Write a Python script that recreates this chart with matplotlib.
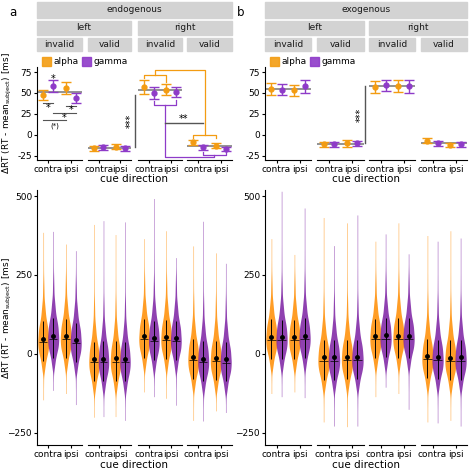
import numpy as np
import matplotlib
matplotlib.use("Agg")
import matplotlib.pyplot as plt
from matplotlib.patches import Rectangle

plt.rcParams['font.family'] = ['DejaVu Sans']
W = 474
ORANGE = "#F39C12"
ORANGE_D = "#FF8C00"
PURPLE = "#8E3BC8"
PURPLE_D = "#7B1FA2"

facets = ["left-invalid", "left-valid", "right-invalid", "right-valid"]
cue = ["contra", "ipsi"]
bands = ["alpha", "gamma"]

# mean RT differences, order per facet: contra-alpha, contra-gamma, ipsi-alpha, ipsi-gamma
endo_mean = [[48, 58, 56, 44], [-16, -15, -14, -16], [57, 50, 54, 51], [-9, -15, -13, -17]]
endo_err = [[6, 7, 7, 6], [3, 3, 3, 3], [8, 7, 7, 6], [3, 3, 3, 2]]
exo_mean = [[55, 54, 53, 58], [-11, -11, -10, -10], [57, 59, 58, 58], [-7, -10, -12, -11]]
exo_err = [[7, 7, 7, 8], [3, 3, 4, 3], [7, 7, 7, 8], [3, 3, 2, 3]]

endo_max = [[385, 388, 348, 327], [410, 422, 378, 418], [365, 492, 390, 305], [342, 420, 320, 287]]
endo_min = [[-145, -115, -125, -160], [-200, -198, -198, -210], [-120, -135, -140, -162], [-210, -212, -180, -185]]
exo_max = [[365, 515, 315, 462], [432, 343, 415, 440], [357, 380, 415, 317], [375, 357, 390, 367]]
exo_min = [[-125, -135, -120, -138], [-215, -228, -230, -228], [-135, -105, -125, -175], [-215, -218, -210, -228]]

cols = [
    dict(label="a", title="endogenous", px=[(37, 82), (88, 131), (138, 182), (187, 232)],
         mean=endo_mean, err=endo_err, vmax=endo_max, vmin=endo_min),
    dict(label="b", title="exogenous", px=[(265, 311), (317, 364), (369, 415), (421, 467)],
         mean=exo_mean, err=exo_err, vmax=exo_max, vmin=exo_min),
]

fig = plt.figure(figsize=(4.74, 4.74), dpi=100)
FS = 6.5

def fbox(x0, x1, ytop, ybot):
    return [x0 / W, 1 - ybot / W, (x1 - x0) / W, (ybot - ytop) / W]

STRIP = "#D3D3D3"
def strip(x0, x1, ytop, ybot, text):
    fig.patches.append(Rectangle((x0 / W, 1 - ybot / W), (x1 - x0) / W, (ybot - ytop) / W,
                                 transform=fig.transFigure, color=STRIP, zorder=0))
    fig.text((x0 + x1) / 2 / W, 1 - (ytop + ybot) / 2 / W, text, ha="center", va="center",
             fontsize=FS, color="#1A1A1A")

offs = [-0.22, 0.22]
xs = [1 + offs[0], 1 + offs[1], 2 + offs[0], 2 + offs[1]]
colors = [ORANGE, PURPLE, ORANGE, PURPLE]
vcolors = [ORANGE_D, PURPLE_D, ORANGE_D, PURPLE_D]

def violin(ax, x, med, lo, hi, col):
    ky = np.array([lo, med - 110, med - 60, med - 25, med, med + 40, med + 80, med + 140, med + 220, hi])
    kw = np.array([0.02, 0.06, 0.45, 0.9, 1.0, 0.85, 0.45, 0.15, 0.05, 0.02])
    order = np.argsort(ky)
    ky, kw = ky[order], kw[order]
    yy = np.linspace(lo, hi, 300)
    ww = np.interp(yy, ky, kw)
    ww = np.convolve(np.pad(ww, 6, mode="edge"), np.ones(13) / 13, mode="valid")
    ww = np.maximum(ww, 0.04) * 0.25
    ax.fill_betweenx(yy, x - ww, x + ww, color=col, alpha=0.85, lw=0, zorder=2)

for c in cols:
    x0c, x1c = c["px"][0][0], c["px"][3][1]
    fig.text((x0c - 24) / W, 1 - 12 / W, c["label"], fontsize=8.5, ha="center", va="center")
    strip(x0c, x1c, 2, 18, c["title"])
    strip(c["px"][0][0], c["px"][1][1], 21, 35, "left")
    strip(c["px"][2][0], c["px"][3][1], 21, 35, "right")
    for i, (a, b) in enumerate(c["px"]):
        strip(a, b, 38, 51, ["invalid", "valid", "invalid", "valid"][i])

    # legend
    lx = x0c + 5
    for j, (lab, colr) in enumerate(zip(bands, [ORANGE, PURPLE])):
        bx = lx + j * 40
        fig.patches.append(Rectangle((bx / W, 1 - 66 / W), 9 / W, 9 / W, transform=fig.transFigure,
                                     facecolor=colr, edgecolor=colr, alpha=0.9, zorder=1))
        fig.text((bx + 12) / W, 1 - 61.5 / W, lab, fontsize=FS, va="center")

    for i, (a, b) in enumerate(c["px"]):
        # top panel
        ax = fig.add_axes(fbox(a, b, 67, 160))
        ax.set_xlim(0.5, 2.5)
        ax.set_ylim(-30, 81)
        m = c["mean"][i]
        ax.axhline(np.mean(m), color="#808080", lw=1.2, zorder=1)
        for k in range(4):
            ax.errorbar(xs[k], m[k], yerr=c["err"][i][k], fmt="o", color=colors[k], ms=3.5,
                        capsize=3.5, elinewidth=1, capthick=1, zorder=3)
        # bottom panel
        bx = fig.add_axes(fbox(a, b, 190, 445))
        bx.set_xlim(0.5, 2.5)
        bx.set_ylim(-288, 519)
        for k in range(4):
            med = m[k] - 10
            violin(bx, xs[k], med, c["vmin"][i][k], c["vmax"][i][k], vcolors[k])
            bx.vlines(xs[k], med - 60, med + 65, color="black", lw=0.7, zorder=3)
            bx.hlines(med, xs[k] - 0.18, xs[k] + 0.18, color="black", lw=0.5, zorder=3)
            bx.plot(xs[k], m[k], "o", color="black", ms=2.5, zorder=4)
        for axx in (ax, bx):
            for s in ["top", "right"]:
                axx.spines[s].set_visible(False)
            axx.set_xticks([1, 2])
            axx.set_xticklabels(cue, fontsize=FS)
            axx.tick_params(length=2, pad=1.5, labelsize=FS)
            if i > 0:
                axx.spines["left"].set_visible(False)
                axx.set_yticks([])
        if i == 0:
            ax.set_yticks([-25, 0, 25, 50, 75])
            ax.set_yticklabels(["-25", "0", "25", "50", "75"])
            bx.set_yticks([-250, 0, 250, 500])
    fig.text((x0c + x1c) / 2 / W, 1 - 179 / W, "cue direction", ha="center", va="center", fontsize=7.5)
    fig.text((x0c + x1c) / 2 / W, 1 - 465 / W, "cue direction", ha="center", va="center", fontsize=7.5)

ylab = r"$\Delta$RT (RT - mean$_{\mathrm{subject}}$) [ms]"
fig.text(7 / W, 1 - 113 / W, ylab, rotation=90, ha="center", va="center", fontsize=6.5)
fig.text(7 / W, 1 - 318 / W, ylab, rotation=90, ha="center", va="center", fontsize=6.5)

# significance annotations (overlay in pixel-x / data-y coordinates)
ov = fig.add_axes(fbox(0, W, 67, 160))
ov.set_xlim(0, W)
ov.set_ylim(-30, 81)
ov.axis("off")
G = "#555555"
def px_of(col, facet, k):
    a, b = cols[col]["px"][facet]
    return a + (xs[k] - 0.5) / 2 * (b - a)
ov.text(px_of(0, 0, 1), 63, "*", ha="center", fontsize=7)
ov.plot([px_of(0, 0, 0), px_of(0, 0, 1)], [38, 38], color=G, lw=0.8)
ov.text((px_of(0, 0, 0) + px_of(0, 0, 1)) / 2, 29, "*", ha="center", fontsize=7)
ov.plot([px_of(0, 0, 2), px_of(0, 0, 3)], [35, 35], color=G, lw=0.8)
ov.text((px_of(0, 0, 2) + px_of(0, 0, 3)) / 2, 26, "*", ha="center", fontsize=7)
ov.plot([px_of(0, 0, 1), px_of(0, 0, 3)], [26, 26], color=G, lw=0.8)
ov.text((px_of(0, 0, 1) + px_of(0, 0, 3)) / 2, 17, "*", ha="center", fontsize=7)
ov.plot([px_of(0, 0, 0), px_of(0, 0, 2)], [18, 18], color=G, lw=0.8)
ov.text((px_of(0, 0, 0) + px_of(0, 0, 2)) / 2, 9, "(*)", ha="center", fontsize=5)
for col, xpx, ytop, ybot in [(0, 135, 48, -15), (1, 365, 58, -10)]:
    ov.plot([xpx, xpx], [ybot, ytop], color=G, lw=1)
    ov.text(xpx - 4, (ytop + ybot) / 2, "***", rotation=90, ha="center", va="center", fontsize=7)
ri_a = [px_of(0, 2, 0), px_of(0, 2, 2)]
rv_a = [px_of(0, 3, 0), px_of(0, 3, 2)]
ov.plot([ri_a[0], ri_a[0], ri_a[1], ri_a[1]], [68, 72, 72, 63], color=ORANGE, lw=0.9)
ov.plot([rv_a[0], rv_a[0], rv_a[1], rv_a[1]], [-4, 0, 0, -4], color=ORANGE, lw=0.9)
m1, m2 = np.mean(ri_a), np.mean(rv_a)
ov.plot([m1, m1, m2, m2], [72, 78, 78, 0], color=ORANGE, lw=0.9)
ri_g = [px_of(0, 2, 1), px_of(0, 2, 3)]
rv_g = [px_of(0, 3, 1), px_of(0, 3, 3)]
ov.plot([ri_g[0], ri_g[0], ri_g[1], ri_g[1]], [40, 36, 36, 42], color=PURPLE, lw=0.9)
ov.plot([rv_g[0], rv_g[0], rv_g[1], rv_g[1]], [-20, -24, -24, -21], color=PURPLE, lw=0.9)
g1, g2 = np.mean(ri_g), np.mean(rv_g)
ov.plot([g1, g1, g2, g2], [36, -27, -27, -24], color=PURPLE, lw=0.9)
ov.plot([165, 203], [14, 14], color=G, lw=1)
ov.text(184, 15, "**", ha="center", fontsize=7)

fig.savefig("out.png", dpi=100)
